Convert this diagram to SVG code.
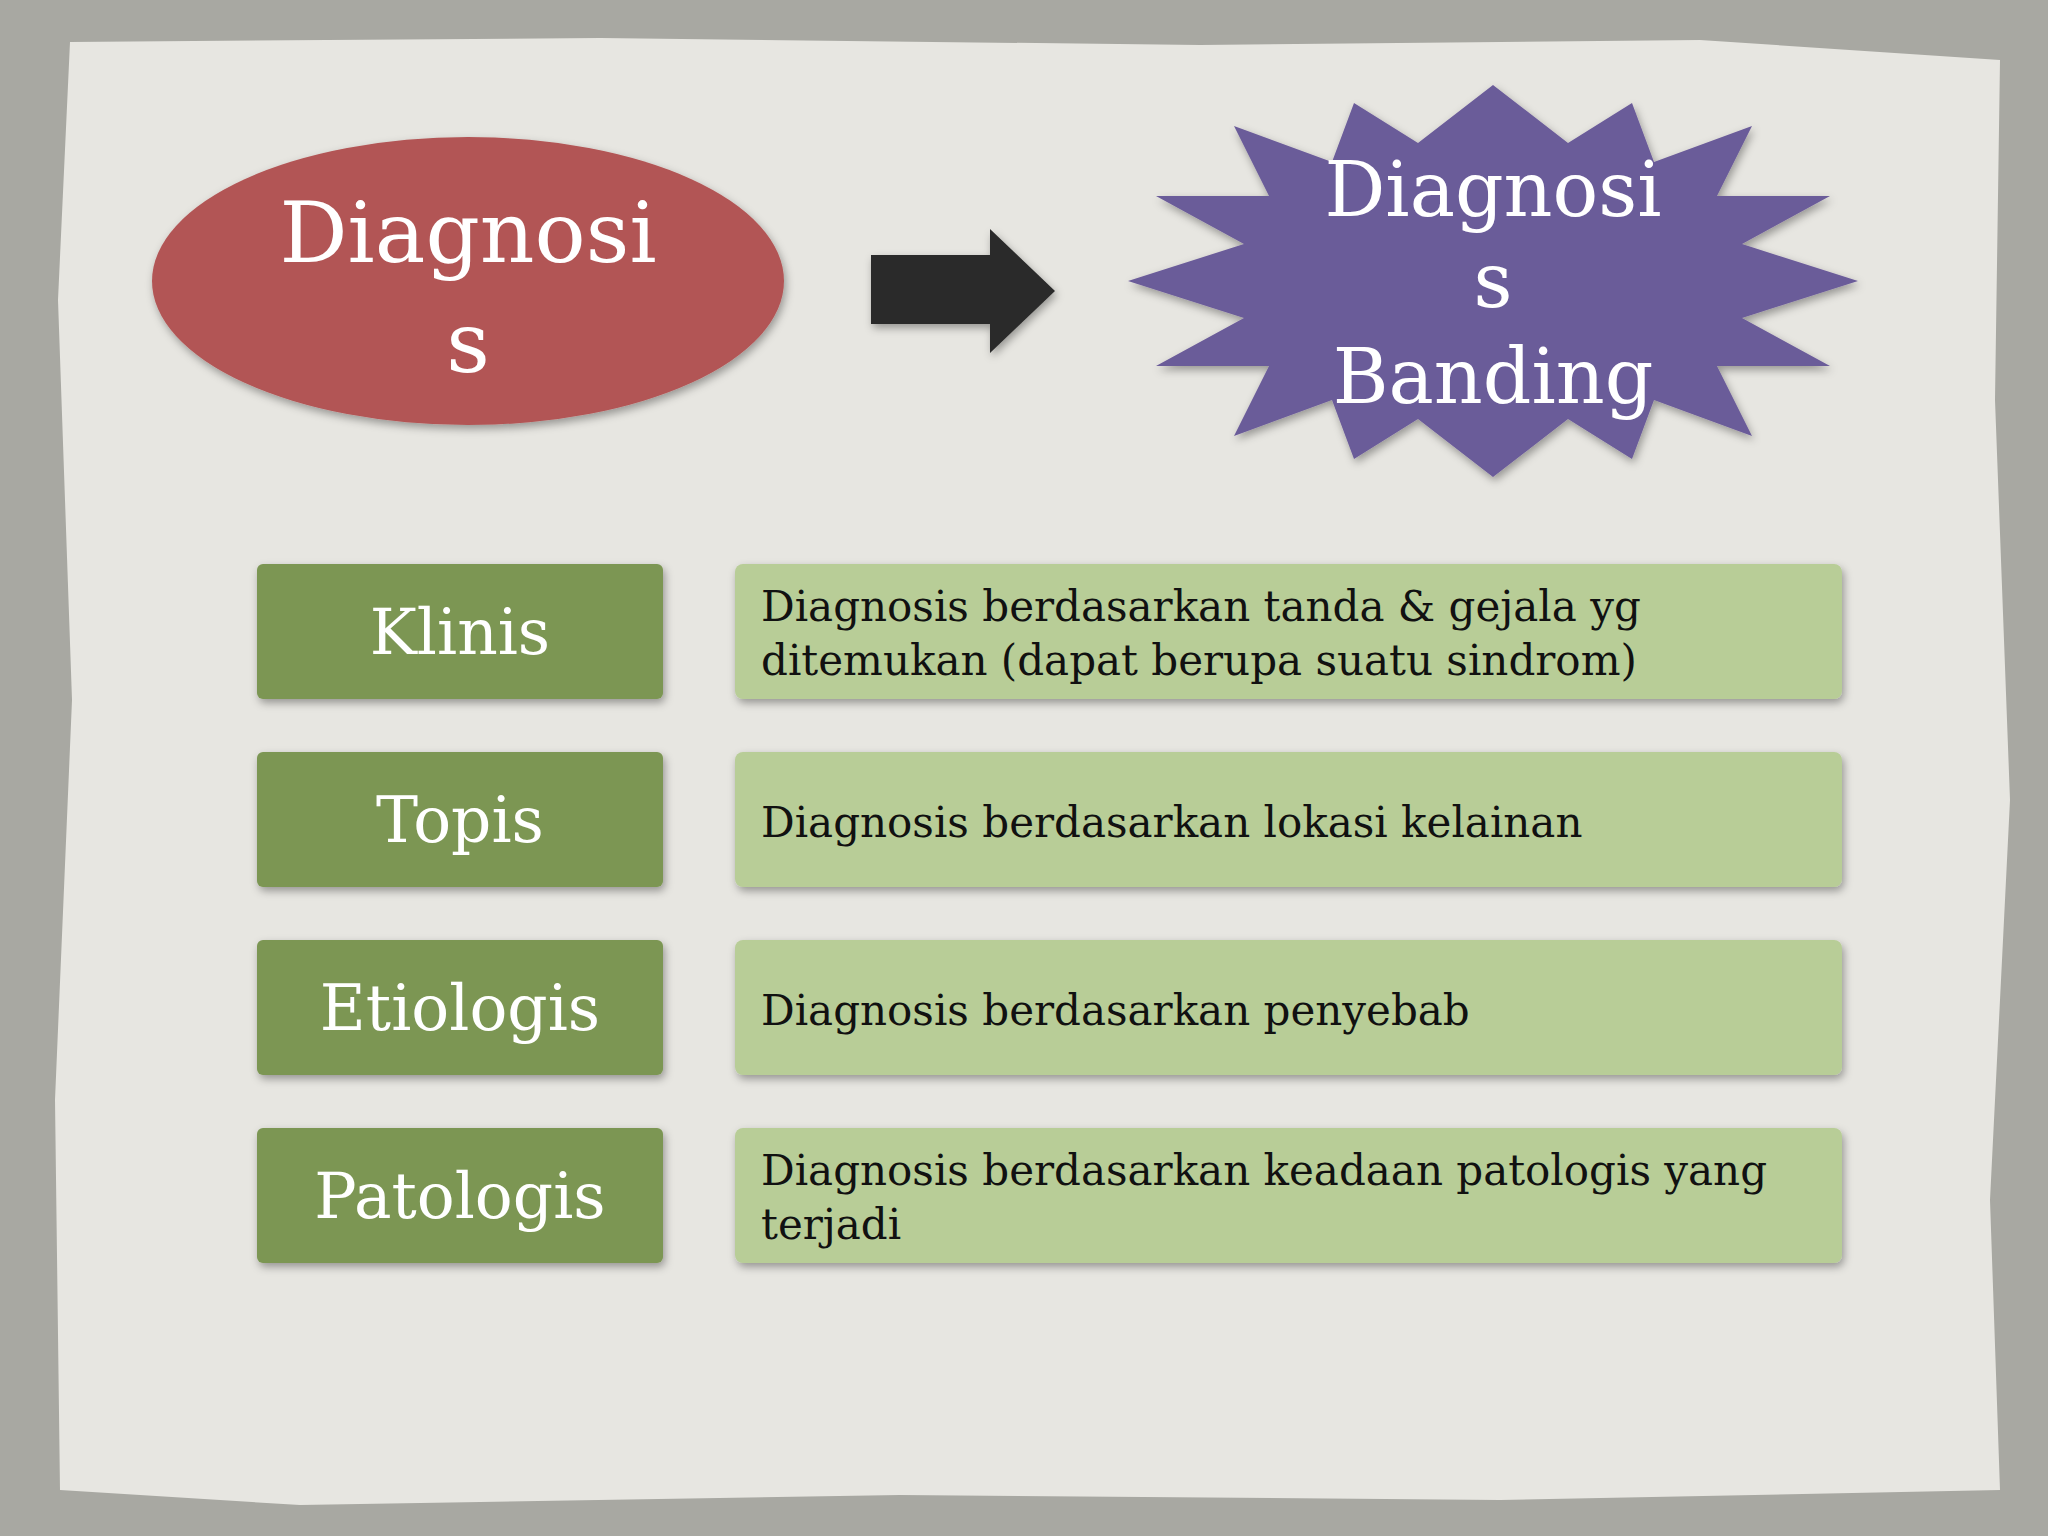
<svg xmlns="http://www.w3.org/2000/svg" width="2048" height="1536" viewBox="0 0 2048 1536">
<defs>
<filter id="sh" x="-10%" y="-10%" width="120%" height="130%"><feDropShadow dx="2" dy="4" stdDeviation="4" flood-color="#000" flood-opacity="0.35"/></filter>
<style>
.big{font-family:"DejaVu Serif","Liberation Serif",serif;fill:#fff;text-anchor:middle}
.lbl{font-family:"DejaVu Serif","Liberation Serif",serif;fill:#fff;text-anchor:middle;font-size:63px}
.desc{font-family:"DejaVu Serif","Liberation Serif",serif;fill:#111;font-size:42px}
.lb{fill:#7b9652;filter:url(#sh)}
.rb{fill:#b8cd97;filter:url(#sh)}
</style>
</defs>
<rect width="2048" height="1536" fill="#a8a8a2"/>
<path d="M70,42 L600,38 L1200,45 L1700,40 L2000,60 L1995,400 L2010,800 L1990,1200 L2000,1490 L1500,1500 L900,1495 L300,1505 L60,1490 L55,1100 L72,700 L58,300 Z" fill="#e7e6e1"/>
<g id="diagnosis"><ellipse cx="468" cy="281" rx="316" ry="144" fill="#b25555" filter="url(#sh)"/>
<text class="big" font-size="85" x="468" y="262">Diagnosi</text><text class="big" font-size="85" x="468" y="372">s</text></g>
<g id="connectors"><path d="M871,255 L990,255 L990,229 L1055,291 L990,353 L990,324 L871,324 Z" fill="#2b2b2b" filter="url(#sh)"/></g>
<g id="banding"><polygon id="star" fill="#6b5b99" filter="url(#sh)" points="1858,281 1742,318 1830,366 1717,366 1752,436 1654,400 1632,459 1568,419 1493,477 1418,419 1354,459 1332,400 1234,436 1269,366 1156,366 1244,318 1128,281 1244,244 1156,196 1269,196 1234,126 1332,162 1354,103 1418,143 1493,85 1568,143 1632,103 1654,162 1752,126 1717,196 1830,196 1742,244"/>
<text class="big" font-size="76" x="1493" y="216">Diagnosi</text><text class="big" font-size="76" x="1493" y="307">s</text><text class="big" font-size="76" x="1493" y="403">Banding</text></g>
<g id="klinis"><rect class="lb" x="257" y="564" width="406" height="135" rx="6"/><text class="lbl" x="460" y="654">Klinis</text>
<rect class="rb" x="735" y="564" width="1107" height="135" rx="8"/><text class="desc" x="761" y="621">Diagnosis berdasarkan tanda &amp; gejala yg</text><text class="desc" x="761" y="675">ditemukan (dapat berupa suatu sindrom)</text></g>
<g id="topis"><rect class="lb" x="257" y="752" width="406" height="135" rx="6"/><text class="lbl" x="460" y="842">Topis</text>
<rect class="rb" x="735" y="752" width="1107" height="135" rx="8"/><text class="desc" x="761" y="837">Diagnosis berdasarkan lokasi kelainan</text></g>
<g id="etiologis"><rect class="lb" x="257" y="940" width="406" height="135" rx="6"/><text class="lbl" x="460" y="1030">Etiologis</text>
<rect class="rb" x="735" y="940" width="1107" height="135" rx="8"/><text class="desc" x="761" y="1025">Diagnosis berdasarkan penyebab</text></g>
<g id="patologis"><rect class="lb" x="257" y="1128" width="406" height="135" rx="6"/><text class="lbl" x="460" y="1218">Patologis</text>
<rect class="rb" x="735" y="1128" width="1107" height="135" rx="8"/><text class="desc" x="761" y="1185">Diagnosis berdasarkan keadaan patologis yang</text><text class="desc" x="761" y="1239">terjadi</text></g>
</svg>
